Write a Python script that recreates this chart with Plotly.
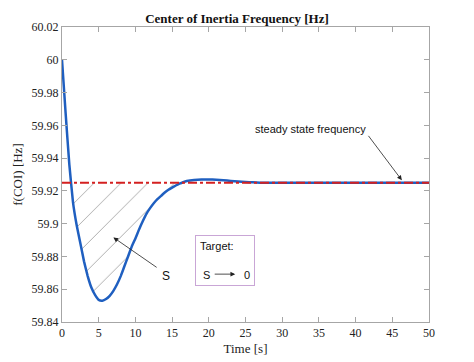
import plotly.graph_objects as go
import numpy as np

# Data
time_s = [0, 0.5, 1.0, 1.5, 2.0, 2.5, 3.0, 3.5, 4.0, 4.5, 5.0, 5.5, 6.0, 6.5, 7.0, 7.5, 8.0,
          8.5, 9.0, 9.5, 10.0, 10.5, 11.0, 11.5, 12.0, 12.5, 13.0, 13.5, 14.0, 14.5, 15.0,
          15.5, 16.0, 16.5, 17.0, 18.0, 19.0, 20.0, 21.0, 22.0, 23.0, 24.0, 25.0, 26.0,
          27.0, 30.0, 35.0, 40.0, 45.0, 50.0]
f_coi = [60.000, 59.967, 59.936, 59.913, 59.899, 59.888, 59.877, 59.868, 59.861,
         59.8565, 59.8535, 59.853, 59.854, 59.856, 59.859, 59.863, 59.868,
         59.874, 59.880, 59.886, 59.891, 59.8965, 59.9015, 59.906, 59.9095, 59.9125,
         59.915, 59.917, 59.919, 59.9207, 59.922,
         59.9233, 59.9244, 59.9253, 59.926, 59.9267, 59.927, 59.927, 59.9268, 59.9265,
         59.9261, 59.9257, 59.9254, 59.9252,
         59.925, 59.925, 59.925, 59.925, 59.925, 59.925]
steady_state = 59.925

x_ticks = list(range(0, 51, 5))
y_tick_vals = [59.84, 59.86, 59.88, 59.90, 59.92, 59.94, 59.96, 59.98, 60.00, 60.02]
y_tick_text = ["59.84", "59.86", "59.88", "59.9", "59.92", "59.94", "59.96", "59.98", "60", "60.02"]

ss_arr = [steady_state] * len(time_s)
below = list(np.minimum(np.array(f_coi), steady_state))

serif = "Liberation Serif, Times New Roman, serif"
sans = "Liberation Sans, Arial, Helvetica, sans-serif"

fig = go.Figure()
# hatched area S
fig.add_trace(go.Scatter(x=time_s, y=ss_arr, mode="lines", line=dict(width=0),
                         hoverinfo="skip", showlegend=False))
fig.add_trace(go.Scatter(x=time_s, y=below, mode="lines", line=dict(width=0),
                         fill="tonexty", fillcolor="rgba(0,0,0,0)",
                         fillpattern=dict(shape="/", fgcolor="#555555", bgcolor="rgba(0,0,0,0)",
                                          size=19, solidity=0.05, fillmode="overlay"),
                         hoverinfo="skip", showlegend=False))
# frequency curve
fig.add_trace(go.Scatter(x=time_s, y=f_coi, mode="lines",
                         line=dict(color="#1f5fc0", width=2.5, shape="spline", smoothing=0.3),
                         showlegend=False))
# steady state line
fig.add_trace(go.Scatter(x=[0, 50], y=[steady_state, steady_state], mode="lines",
                         line=dict(color="#d42020", width=2, dash="dashdot"),
                         showlegend=False))

axis_common = dict(showline=True, linecolor="#a6a6a6", linewidth=1, mirror="ticks",
                   ticks="inside", ticklen=5, tickcolor="#a6a6a6", showgrid=False,
                   zeroline=False, automargin=False,
                   tickfont=dict(family=serif, size=12, color="#222"))

fig.update_xaxes(range=[0, 50], tickvals=x_ticks,
                 title=dict(text="Time [s]", font=dict(family=serif, size=13, color="#222"), standoff=4),
                 **axis_common)
fig.update_yaxes(range=[59.84, 60.02], tickvals=y_tick_vals, ticktext=y_tick_text,
                 title=dict(text="f(COI) [Hz]", font=dict(family=serif, size=13, color="#222"), standoff=6),
                 **axis_common)

annots = [
    dict(x=33.9, y=59.958, text="steady state frequency", showarrow=False,
         font=dict(family=sans, size=11, color="#111")),
    dict(x=46.3, y=59.9265, ax=41.6, ay=59.9545, axref="x", ayref="y", text="",
         showarrow=True, arrowhead=2, arrowsize=1.2, arrowwidth=0.8, arrowcolor="#222"),
    dict(x=14.2, y=59.868, text="S", showarrow=False, font=dict(family=sans, size=12, color="#111")),
    dict(x=7.0, y=59.8916, ax=13.1, ay=59.8727, axref="x", ayref="y", text="",
         showarrow=True, arrowhead=2, arrowsize=1.2, arrowwidth=0.8, arrowcolor="#222"),
    dict(x=22.2, y=59.8777, text="Target:<br><br> S           0", showarrow=False, align="left",
         bordercolor="#c9a6d6", borderwidth=1, borderpad=4, bgcolor="white",
         font=dict(family=sans, size=11, color="#111")),
    dict(x=23.6, y=59.8692, ax=20.6, ay=59.8692, axref="x", ayref="y", text="",
         showarrow=True, arrowhead=2, arrowsize=1.2, arrowwidth=0.8, arrowcolor="#222"),
]

fig.update_layout(
    width=474, height=362,
    margin=dict(l=62, r=45, t=27, b=40),
    paper_bgcolor="white", plot_bgcolor="white",
    title=dict(text="<b>Center of Inertia Frequency [Hz]</b>", x=0.5, xanchor="center",
               y=0.95, yanchor="middle", font=dict(family=serif, size=13, color="#111")),
    annotations=annots,
)

fig.write_html("out.html", config={"displayModeBar": False},
               post_script="document.body.style.margin='0px';")
